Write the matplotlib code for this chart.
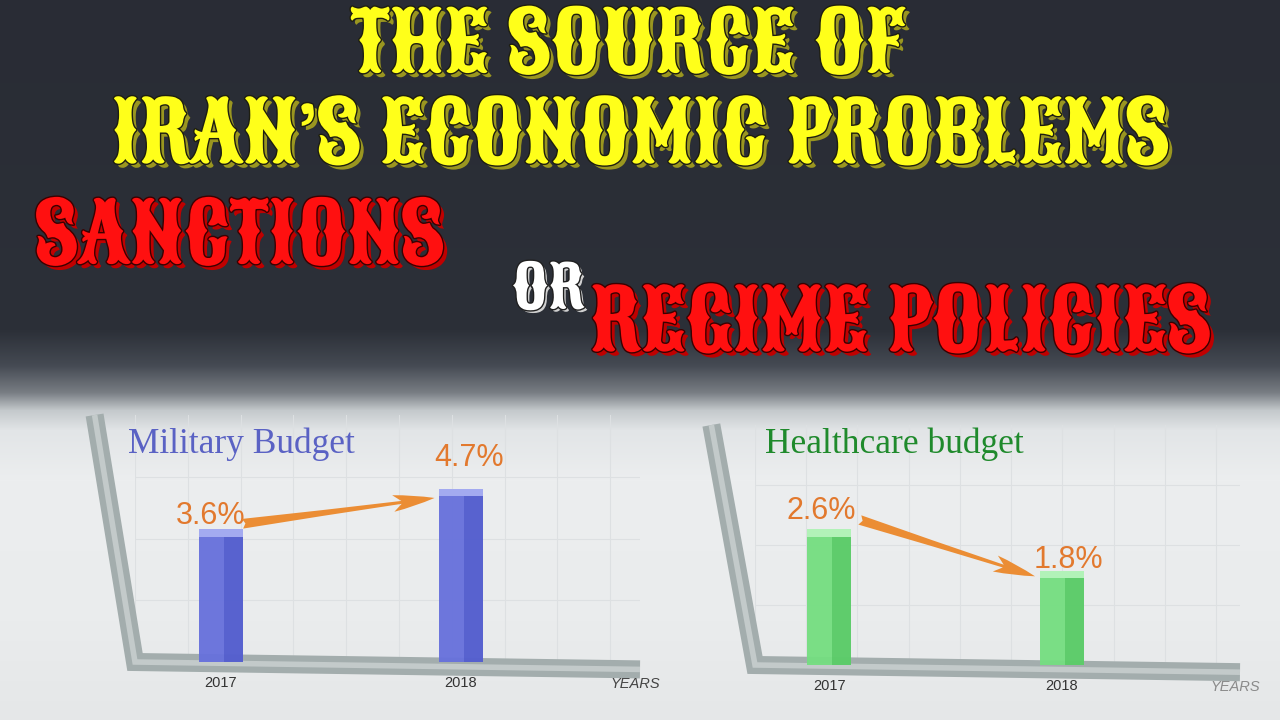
import numpy as np
import matplotlib
matplotlib.use("Agg")
import matplotlib.pyplot as plt
import matplotlib.patheffects as pe

# ---------------- data ----------------
years = ["2017", "2018"]
military_budget = [3.6, 4.7]
healthcare_budget = [2.6, 1.8]
military_labels = ["3.6%", "4.7%"]
healthcare_labels = ["2.6%", "1.8%"]
title_lines = ["THE SOURCE OF", "IRAN\u2019S ECONOMIC PROBLEMS"]
option_a = "SANCTIONS"
option_b = "REGIME POLICIES"
joiner = "OR"
chart_titles = ["Military Budget", "Healthcare budget"]
axis_label = "YEARS"

W, H = 1280, 720
fig = plt.figure(figsize=(12.8, 7.2), dpi=100)

# ---------------- background ----------------
bg = fig.add_axes([0, 0, 1, 1])
bg.set_xlim(0, W)
bg.set_ylim(H, 0)
bg.axis("off")
rows = np.arange(H)
stops_y = [0, 330, 365, 392, 410, 430, 480, 620, 720]
stops_c = np.array([
    [0x29, 0x2c, 0x35], [0x2c, 0x30, 0x38], [0x45, 0x4a, 0x53], [0x78, 0x7d, 0x83],
    [0xc4, 0xc9, 0xcc], [0xe2, 0xe5, 0xe7], [0xec, 0xee, 0xef], [0xea, 0xec, 0xed],
    [0xe5, 0xe7, 0xe8]]) / 255.0
grad = np.stack([np.interp(rows, stops_y, stops_c[:, i]) for i in range(3)], axis=-1)
img = np.repeat(grad[:, None, :], W, axis=1)
bg.imshow(img, extent=(0, W, H, 0), aspect="auto", zorder=0)

renderer = fig.canvas.get_renderer()


def fit_text(ax, x, y, s, target_w, ha="center", shrink=1.0, **kw):
    t = ax.text(x, y, s, ha=ha, va="center", **kw)
    fs = t.get_fontsize()
    w = t.get_window_extent(renderer).width
    t.set_fontsize(fs * target_w / w * shrink)
    return t


deco = ["Sancreek", "Liberation Serif", "DejaVu Serif"]
serif = ["Liberation Serif", "DejaVu Serif"]
sans = ["Liberation Sans", "DejaVu Sans"]
yellow_fx = [pe.withSimplePatchShadow(offset=(3, -3), shadow_rgbFace="#9a9620", alpha=1.0),
             pe.withStroke(linewidth=2, foreground="#1e1e10")]
red_fx = [pe.withSimplePatchShadow(offset=(3, -3), shadow_rgbFace="#c00000", alpha=1.0),
          pe.withStroke(linewidth=2, foreground="#3a0000")]
white_fx = [pe.withSimplePatchShadow(offset=(2, -2), shadow_rgbFace="#d0d0d0", alpha=1.0),
            pe.withStroke(linewidth=2, foreground="#202020")]

fit_text(bg, 628, 45, title_lines[0], 610, shrink=0.91, family=deco,
         color="#ffff1a", fontsize=50, path_effects=yellow_fx)
fit_text(bg, 640, 135, title_lines[1], 1150, shrink=0.92, family=deco,
         color="#ffff1a", fontsize=50, path_effects=yellow_fx)
fit_text(bg, 35, 236, option_a, 455, shrink=0.9, ha="left", family=deco,
         color="#ff1010", fontsize=50, path_effects=red_fx)
fit_text(bg, 548, 289, joiner, 72, family=deco,
         color="white", fontsize=30, path_effects=white_fx)
fit_text(bg, 590, 323, option_b, 675, shrink=0.92, ha="left", family=deco,
         color="#ff1010", fontsize=50, path_effects=red_fx)


# ---------------- charts ----------------
def px_axes(left, top, right, bottom):
    return fig.add_axes([left / W, 1 - bottom / H, (right - left) / W, (bottom - top) / H])


def draw_chart(ax, values, labels, face, side, top, title, title_color, title_pos, years_color,
               xlim, ylim, width, label_offsets, arrow_from, arrow_to, frame_pts):
    ax.set_facecolor("none")
    ax.set_xlim(*xlim)
    ax.set_ylim(*ylim)
    x = np.arange(len(values))
    # faint floor grid
    ax.set_yticks(np.arange(0, ylim[1], ylim[1] / 4))
    ax.set_xticks(np.arange(xlim[0], xlim[1], 0.22), minor=True)
    ax.grid(True, axis="y", color="#dde0e2", lw=0.8)
    ax.grid(True, axis="x", which="minor", color="#dde0e2", lw=0.8)
    ax.set_axisbelow(True)
    for s in ax.spines.values():
        s.set_visible(False)
    # L-shaped frame
    fx, fy = frame_pts
    ax.plot(fx, fy, transform=ax.transAxes, color="#a3adad", lw=13,
            solid_joinstyle="miter", solid_capstyle="butt", clip_on=False, zorder=1)
    ax.plot(fx, fy, transform=ax.transAxes, color="#c3caca", lw=4,
            solid_joinstyle="miter", solid_capstyle="butt", clip_on=False, zorder=1)
    # bars (front, side shade, top cap)
    ax.bar(x, values, width=width, color=face, alpha=0.95, zorder=3)
    ax.bar(x + width * 0.28, values, width=width * 0.44, color=side, alpha=0.45, zorder=4)
    cap = (ylim[1] - ylim[0]) * 0.03
    ax.bar(x, cap, bottom=np.array(values) - cap, width=width, color=top, zorder=5)
    for xi, v, lab, off in zip(x, values, labels, label_offsets):
        ax.annotate(lab, (xi, v), xytext=off, textcoords="offset pixels",
                    ha="center", va="bottom", fontsize=22, color="#e2792e",
                    family=sans, zorder=6)
    ax.annotate("", xy=arrow_to, xytext=arrow_from,
                arrowprops=dict(arrowstyle="fancy,head_length=1.5,head_width=0.6,tail_width=0.35",
                                mutation_scale=20, color="#eb8d34", lw=0,
                                shrinkA=0, shrinkB=0), zorder=6)
    ax.set_xticks(x)
    ax.set_xticklabels(years, fontsize=10.5, color="#333333", family=sans)
    ax.tick_params(axis="x", length=0, pad=10)
    ax.tick_params(axis="y", length=0, labelleft=False)
    ax.text(title_pos[0], title_pos[1], title, transform=ax.transAxes, ha="left", va="center",
            fontsize=25.5, color=title_color, family=serif)
    ax.text(0.99, -0.09, axis_label, transform=ax.transAxes, ha="center", va="center",
            fontsize=10.5, style="italic", color=years_color, family=sans)


ax1 = px_axes(135, 415, 640, 662)
draw_chart(ax1, military_budget, military_labels, "#6670dc", "#3f4ac0", "#a3aaf0",
           chart_titles[0], "#5a62c4", (-0.014, 0.88), "#444444",
           (-0.358, 1.746), (0, 6.7), 0.18, [(-10, -2), (8, 16)],
           (0.09, 3.75), (0.89, 4.45),
           ([-0.08, 0.0, 1.0], [1.0, 0.0, -0.03]))

ax2 = px_axes(755, 425, 1240, 665)
draw_chart(ax2, healthcare_budget, healthcare_labels, "#74de80", "#3fb84e", "#b2f2b8",
           chart_titles[1], "#1f8a2c", (0.02, 0.92), "#8a8a8a",
           (-0.318, 1.764), (0, 4.6), 0.19, [(-8, 3), (6, -4)],
           (0.132, 2.78), (0.884, 1.7),
           ([-0.09, 0.0, 1.0], [1.0, 0.0, -0.03]))

fig.savefig("out.png", dpi=100)
